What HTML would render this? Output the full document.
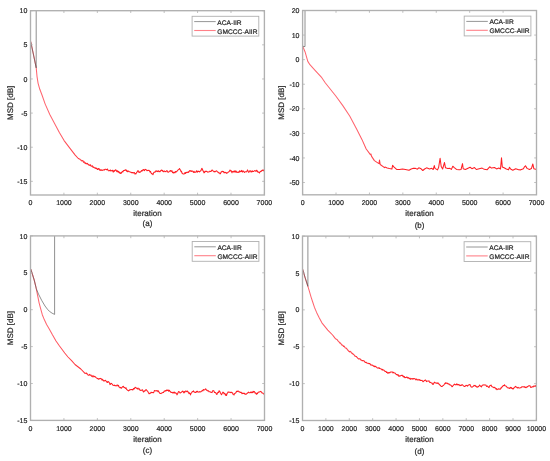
<!DOCTYPE html><html><head><meta charset="utf-8"><style>html,body{margin:0;padding:0;background:#fff;}svg{display:block;}</style></head><body>
<svg width="550" height="461" viewBox="0 0 550 461" font-family='"Liberation Sans", Arial, sans-serif'>
<style>text{stroke:#262626;stroke-width:0.2px;text-rendering:geometricPrecision;}</style>
<rect width="550" height="461" fill="#fff"/>
<defs><clipPath id="cla"><rect x="30.5" y="10.7" width="233.89999999999998" height="184.3"/></clipPath></defs>
<g clip-path="url(#cla)">
<defs><linearGradient id="gra" gradientUnits="userSpaceOnUse" x1="55" y1="0" x2="95" y2="0"><stop offset="0" stop-color="#ff6670"/><stop offset="1" stop-color="#ff1e24"/></linearGradient></defs>
<polyline points="30.70,41.60 33.50,54.50 36.20,67.60 37.00,76.30 38.10,83.30 39.80,89.30 42.00,95.00 45.20,104.10 49.80,114.50 54.30,123.00 59.50,132.80 64.10,140.60 70.00,148.40 75.20,155.10 78.30,158.50 80.00,159.17 80.50,159.97 81.00,160.01 81.50,160.71 82.00,161.06 82.50,160.48 83.00,160.72 83.50,162.36 84.00,161.75 84.50,161.97 85.00,163.44 85.50,162.85 86.00,163.69 86.50,163.36 87.00,163.87 87.50,163.34 88.00,164.37 88.50,164.99 89.00,164.69 89.50,165.29 90.00,165.43 90.50,164.75 91.00,166.16 91.50,166.18 92.00,166.01 92.50,165.87 93.00,167.44 93.50,166.95 94.00,167.48 94.50,167.87 95.00,167.74 95.50,168.35 96.00,167.79 96.50,168.72 97.00,168.43 97.50,169.50 98.00,169.59 98.50,168.53 99.00,168.78 99.50,169.10 100.00,170.48 100.50,169.79 101.00,170.25 101.50,169.89 102.00,170.38 102.50,170.26 103.00,169.91 103.50,169.98 104.00,169.68 104.50,169.90 105.00,169.25 105.50,169.35 106.00,169.36 106.50,169.82 107.00,169.55 107.50,168.98 108.00,170.34 108.50,170.75 109.00,170.86 109.50,170.38 110.00,170.67 110.50,169.93 111.00,170.98 111.50,170.66 112.00,170.40 112.50,170.24 113.00,171.71 113.50,172.04 114.00,170.38 114.50,171.30 115.00,170.45 115.50,169.82 116.00,169.95 116.50,171.11 117.00,171.67 117.50,170.74 118.00,172.05 118.50,171.43 119.00,172.65 119.50,172.17 120.00,173.20 120.50,173.44 121.00,172.51 121.50,173.13 122.00,171.86 122.50,171.32 123.00,171.90 123.50,170.58 124.00,170.44 124.50,170.38 125.00,170.40 125.50,169.80 126.00,169.74 126.50,171.19 127.00,170.43 127.50,171.61 128.00,171.70 128.50,171.06 129.00,171.38 129.50,171.67 130.00,172.05 130.50,172.13 131.00,172.19 131.50,172.41 132.00,173.04 132.50,172.47 133.00,172.47 133.50,173.05 134.00,172.49 134.50,172.81 135.00,174.11 135.50,173.59 136.00,173.85 136.50,172.67 137.00,172.20 137.50,171.35 138.00,170.55 138.50,171.91 139.00,172.33 139.50,171.82 140.00,172.42 140.50,171.69 141.00,171.55 141.50,170.55 142.00,170.87 142.50,170.82 143.00,169.58 143.50,169.54 144.00,170.37 144.50,170.64 145.00,169.31 145.50,169.44 146.00,169.81 146.50,170.05 147.00,170.78 147.50,170.45 148.00,170.29 148.50,170.40 149.00,170.28 149.50,170.90 150.00,172.04 150.50,171.34 151.00,172.79 151.50,173.69 152.00,173.64 152.50,174.13 153.00,174.65 153.50,173.08 154.00,172.33 154.50,172.14 155.00,172.29 155.50,171.07 156.00,171.15 156.50,170.90 157.00,171.57 157.50,171.04 158.00,171.81 158.50,170.81 159.00,171.18 159.50,171.66 160.00,171.82 160.50,170.92 161.00,170.35 161.50,169.98 162.00,170.67 162.50,170.33 163.00,171.51 163.50,171.76 164.00,170.91 164.50,171.08 165.00,171.82 165.50,171.46 166.00,171.62 166.50,170.77 167.00,170.67 167.50,171.27 168.00,172.40 168.50,171.90 169.00,171.80 169.50,171.32 170.00,170.73 170.50,170.48 171.00,171.61 171.50,170.69 172.00,170.76 172.50,172.57 173.00,172.78 173.50,173.03 174.00,172.06 174.50,172.80 175.00,172.68 175.50,171.47 176.00,172.02 176.50,171.83 177.00,171.21 177.50,170.64 178.00,169.93 178.50,169.65 179.00,169.09 179.50,168.46 180.00,169.65 180.50,170.02 181.00,171.71 181.50,171.27 182.00,173.15 182.50,173.31 183.00,173.86 183.50,173.92 184.00,174.03 184.50,173.62 185.00,172.51 185.50,173.48 186.00,172.35 186.50,172.35 187.00,172.73 187.50,172.29 188.00,171.84 188.50,172.42 189.00,171.63 189.50,170.93 190.00,170.52 190.50,171.23 191.00,170.74 191.50,171.46 192.00,170.99 192.50,170.97 193.00,171.73 193.50,172.41 194.00,171.31 194.50,172.23 195.00,172.37 195.50,172.11 196.00,172.07 196.50,170.72 197.00,171.78 197.50,172.22 198.00,170.98 198.50,171.40 199.00,171.45 199.50,171.93 200.00,171.31 200.50,170.81 201.00,170.72 201.50,168.90 202.00,168.40 202.50,169.50 203.00,170.87 203.50,171.55 204.00,172.87 204.50,172.54 205.00,171.17 205.50,171.70 206.00,171.26 206.50,171.29 207.00,171.48 207.50,172.09 208.00,172.14 208.50,171.91 209.00,171.78 209.50,171.78 210.00,171.15 210.50,171.54 211.00,171.49 211.50,170.65 212.00,169.96 212.50,170.30 213.00,170.79 213.50,171.34 214.00,171.81 214.50,171.29 215.00,171.86 215.50,171.47 216.00,171.06 216.50,170.86 217.00,171.17 217.50,171.94 218.00,171.93 218.50,172.80 219.00,172.87 219.50,172.96 220.00,173.87 220.50,173.68 221.00,172.03 221.50,171.93 222.00,171.27 222.50,171.34 223.00,171.82 223.50,171.57 224.00,172.73 224.50,172.80 225.00,172.19 225.50,172.75 226.00,172.45 226.50,173.36 227.00,172.81 227.50,172.87 228.00,172.41 228.50,171.90 229.00,171.71 229.50,171.13 230.00,170.09 230.50,171.06 231.00,170.66 231.50,171.41 232.00,172.69 232.50,171.40 233.00,171.36 233.50,171.25 234.00,172.38 234.50,171.13 235.00,170.76 235.50,172.09 236.00,171.00 236.50,172.22 237.00,172.01 237.50,172.33 238.00,172.58 238.50,172.00 239.00,172.21 239.50,170.85 240.00,171.88 240.50,171.33 241.00,171.51 241.50,170.40 242.00,171.54 242.50,172.02 243.00,170.80 243.50,171.40 244.00,171.97 244.50,172.50 245.00,171.67 245.50,171.67 246.00,171.88 246.50,171.72 247.00,170.97 247.50,169.87 248.00,171.04 248.50,172.29 249.00,172.04 249.50,171.61 250.00,170.55 250.50,171.07 251.00,171.95 251.50,171.17 252.00,171.82 252.50,170.88 253.00,171.54 253.50,171.46 254.00,171.14 254.50,170.70 255.00,170.62 255.50,170.96 256.00,171.44 256.50,170.33 257.00,170.32 257.50,171.61 258.00,172.23 258.50,171.95 259.00,172.18 259.50,172.98 260.00,171.86 260.50,171.57 261.00,171.04 261.50,171.24 262.00,170.39 262.50,170.04 263.00,170.61 263.50,170.86 264.00,169.64 264.50,170.13" fill="none" stroke="url(#gra)" stroke-width="1.05" stroke-linejoin="round" />
<polyline points="30.70,41.60 36.20,67.90 36.20,0.00" fill="none" stroke="#5a5a5a" stroke-width="0.9" stroke-linejoin="round" stroke-opacity="0.75"/>
</g>
<rect x="30.5" y="10.7" width="233.90" height="184.30" fill="none" stroke="#b0b0b0" stroke-width="1.35"/>
<path d="M30.50 195.0v-2.3M30.50 10.7v2.3M63.91 195.0v-2.3M63.91 10.7v2.3M97.33 195.0v-2.3M97.33 10.7v2.3M130.74 195.0v-2.3M130.74 10.7v2.3M164.16 195.0v-2.3M164.16 10.7v2.3M197.57 195.0v-2.3M197.57 10.7v2.3M230.99 195.0v-2.3M230.99 10.7v2.3M264.40 195.0v-2.3M264.40 10.7v2.3M30.5 10.70h2.3M264.4 10.70h-2.3M30.5 44.83h2.3M264.4 44.83h-2.3M30.5 78.96h2.3M264.4 78.96h-2.3M30.5 113.09h2.3M264.4 113.09h-2.3M30.5 147.22h2.3M264.4 147.22h-2.3M30.5 181.35h2.3M264.4 181.35h-2.3" stroke="#b0b0b0" stroke-width="0.8" fill="none"/>
<text transform="translate(30.50 205.40) scale(1 1.0)" font-size="7.0" fill="#262626" text-anchor="middle">0</text>
<text transform="translate(63.91 205.40) scale(1 1.0)" font-size="7.0" fill="#262626" text-anchor="middle">1000</text>
<text transform="translate(97.33 205.40) scale(1 1.0)" font-size="7.0" fill="#262626" text-anchor="middle">2000</text>
<text transform="translate(130.74 205.40) scale(1 1.0)" font-size="7.0" fill="#262626" text-anchor="middle">3000</text>
<text transform="translate(164.16 205.40) scale(1 1.0)" font-size="7.0" fill="#262626" text-anchor="middle">4000</text>
<text transform="translate(197.57 205.40) scale(1 1.0)" font-size="7.0" fill="#262626" text-anchor="middle">5000</text>
<text transform="translate(230.99 205.40) scale(1 1.0)" font-size="7.0" fill="#262626" text-anchor="middle">6000</text>
<text transform="translate(264.40 205.40) scale(1 1.0)" font-size="7.0" fill="#262626" text-anchor="middle">7000</text>
<text transform="translate(27.40 13.30) scale(1 1.0)" font-size="7.0" fill="#262626" text-anchor="end">10</text>
<text transform="translate(27.40 47.43) scale(1 1.0)" font-size="7.0" fill="#262626" text-anchor="end">5</text>
<text transform="translate(27.40 81.56) scale(1 1.0)" font-size="7.0" fill="#262626" text-anchor="end">0</text>
<text transform="translate(27.40 115.69) scale(1 1.0)" font-size="7.0" fill="#262626" text-anchor="end">-5</text>
<text transform="translate(27.40 149.82) scale(1 1.0)" font-size="7.0" fill="#262626" text-anchor="end">-10</text>
<text transform="translate(27.40 183.95) scale(1 1.0)" font-size="7.0" fill="#262626" text-anchor="end">-15</text>
<text transform="translate(147.45 215.60) scale(1 1.0)" font-size="8.0" fill="#262626" text-anchor="middle">iteration</text>
<text transform="translate(147.45 225.80) scale(1 1.0)" font-size="8.0" fill="#262626" text-anchor="middle">(a)</text>
<text transform="translate(12.80,102.85) rotate(-90) scale(1 1.0)" font-size="8.0" fill="#262626" text-anchor="middle">MSD [dB]</text>
<rect x="192.10" y="16.30" width="66.70" height="19.80" fill="#fff" stroke="#b0b0b0" stroke-width="0.9"/>
<path d="M194.20 21.60H215.70" stroke="#8a8a8a" stroke-width="0.9"/>
<path d="M194.20 30.50H215.70" stroke="#ff8088" stroke-width="1.1"/>
<text transform="translate(217.30 24.60) scale(1 1.0)" font-size="6.65" fill="#262626">ACA-IIR</text>
<text transform="translate(217.30 33.50) scale(1 1.0)" font-size="6.65" fill="#262626">GMCCC-AIIR</text>
<defs><clipPath id="clb"><rect x="302.6" y="10.5" width="233.89999999999998" height="184.3"/></clipPath></defs>
<g clip-path="url(#clb)">
<defs><linearGradient id="grb" gradientUnits="userSpaceOnUse" x1="355" y1="0" x2="392" y2="0"><stop offset="0" stop-color="#ff6670"/><stop offset="1" stop-color="#ff1e24"/></linearGradient></defs>
<polyline points="302.70,46.30 305.00,51.70 307.80,61.40 309.90,64.70 315.30,70.60 321.80,77.70 325.40,83.00 335.80,96.00 342.80,105.60 349.70,116.00 356.60,129.00 361.90,139.40 366.20,149.00 370.40,154.63 370.90,154.00 371.60,156.36 374.40,160.60 378.90,163.60 379.00,163.67 379.50,160.00 380.20,164.53 384.50,167.60 385.00,166.95 387.20,167.91 389.40,168.55 391.90,169.06 392.60,165.33 394.10,167.11 396.60,169.49 399.50,169.43 402.50,169.00 405.40,169.42 409.00,170.19 411.20,168.96 413.40,168.29 415.50,168.39 417.40,169.19 418.80,167.76 420.60,168.48 422.80,170.50 424.60,168.99 426.60,167.83 429.50,168.89 431.70,168.33 433.20,169.51 434.30,165.54 435.00,168.34 437.50,169.88 438.60,167.48 440.10,158.24 441.20,166.54 442.60,169.03 444.50,162.51 445.50,167.78 447.70,168.41 449.90,168.35 451.40,169.41 452.80,166.26 454.30,167.61 456.50,169.42 459.40,169.82 461.00,169.54 462.50,163.65 463.20,168.72 465.40,169.49 467.50,168.45 470.10,167.24 471.90,168.65 474.50,167.56 476.30,169.50 479.20,168.78 482.10,168.11 484.30,169.35 487.20,169.71 489.70,166.80 491.50,168.10 494.50,167.46 496.60,168.89 498.80,168.03 500.50,168.95 501.50,157.87 502.30,167.03 504.10,167.83 506.30,169.07 508.50,169.86 509.50,167.20 510.60,169.07 512.80,170.23 515.70,168.75 518.60,169.76 520.80,169.86 523.40,168.82 524.50,166.86 525.50,165.75 527.00,168.38 529.50,169.41 531.40,168.59 532.80,163.98 533.90,168.76 536.50,169.45" fill="none" stroke="url(#grb)" stroke-width="1.05" stroke-linejoin="round" />
<polyline points="302.70,46.30 305.00,46.60 305.00,0.00" fill="none" stroke="#5a5a5a" stroke-width="0.9" stroke-linejoin="round" stroke-opacity="0.75"/>
</g>
<rect x="302.6" y="10.5" width="233.90" height="184.30" fill="none" stroke="#b0b0b0" stroke-width="1.35"/>
<path d="M302.60 194.8v-2.3M302.60 10.5v2.3M336.01 194.8v-2.3M336.01 10.5v2.3M369.43 194.8v-2.3M369.43 10.5v2.3M402.84 194.8v-2.3M402.84 10.5v2.3M436.26 194.8v-2.3M436.26 10.5v2.3M469.67 194.8v-2.3M469.67 10.5v2.3M503.09 194.8v-2.3M503.09 10.5v2.3M536.50 194.8v-2.3M536.50 10.5v2.3M302.6 10.50h2.3M536.5 10.50h-2.3M302.6 35.07h2.3M536.5 35.07h-2.3M302.6 59.65h2.3M536.5 59.65h-2.3M302.6 84.22h2.3M536.5 84.22h-2.3M302.6 108.79h2.3M536.5 108.79h-2.3M302.6 133.37h2.3M536.5 133.37h-2.3M302.6 157.94h2.3M536.5 157.94h-2.3M302.6 182.51h2.3M536.5 182.51h-2.3" stroke="#b0b0b0" stroke-width="0.8" fill="none"/>
<text transform="translate(302.60 205.10) scale(1 1.0)" font-size="7.0" fill="#262626" text-anchor="middle">0</text>
<text transform="translate(336.01 205.10) scale(1 1.0)" font-size="7.0" fill="#262626" text-anchor="middle">1000</text>
<text transform="translate(369.43 205.10) scale(1 1.0)" font-size="7.0" fill="#262626" text-anchor="middle">2000</text>
<text transform="translate(402.84 205.10) scale(1 1.0)" font-size="7.0" fill="#262626" text-anchor="middle">3000</text>
<text transform="translate(436.26 205.10) scale(1 1.0)" font-size="7.0" fill="#262626" text-anchor="middle">4000</text>
<text transform="translate(469.67 205.10) scale(1 1.0)" font-size="7.0" fill="#262626" text-anchor="middle">5000</text>
<text transform="translate(503.09 205.10) scale(1 1.0)" font-size="7.0" fill="#262626" text-anchor="middle">6000</text>
<text transform="translate(536.50 205.10) scale(1 1.0)" font-size="7.0" fill="#262626" text-anchor="middle">7000</text>
<text transform="translate(299.50 13.10) scale(1 1.0)" font-size="7.0" fill="#262626" text-anchor="end">20</text>
<text transform="translate(299.50 37.67) scale(1 1.0)" font-size="7.0" fill="#262626" text-anchor="end">10</text>
<text transform="translate(299.50 62.25) scale(1 1.0)" font-size="7.0" fill="#262626" text-anchor="end">0</text>
<text transform="translate(299.50 86.82) scale(1 1.0)" font-size="7.0" fill="#262626" text-anchor="end">-10</text>
<text transform="translate(299.50 111.39) scale(1 1.0)" font-size="7.0" fill="#262626" text-anchor="end">-20</text>
<text transform="translate(299.50 135.97) scale(1 1.0)" font-size="7.0" fill="#262626" text-anchor="end">-30</text>
<text transform="translate(299.50 160.54) scale(1 1.0)" font-size="7.0" fill="#262626" text-anchor="end">-40</text>
<text transform="translate(299.50 185.11) scale(1 1.0)" font-size="7.0" fill="#262626" text-anchor="end">-50</text>
<text transform="translate(419.55 216.10) scale(1 1.0)" font-size="8.0" fill="#262626" text-anchor="middle">iteration</text>
<text transform="translate(419.55 228.30) scale(1 1.0)" font-size="8.0" fill="#262626" text-anchor="middle">(b)</text>
<text transform="translate(284.40,102.65) rotate(-90) scale(1 1.0)" font-size="8.0" fill="#262626" text-anchor="middle">MSD [dB]</text>
<rect x="464.20" y="16.10" width="66.70" height="19.80" fill="#fff" stroke="#b0b0b0" stroke-width="0.9"/>
<path d="M466.30 21.40H487.80" stroke="#8a8a8a" stroke-width="0.9"/>
<path d="M466.30 30.30H487.80" stroke="#ff8088" stroke-width="1.1"/>
<text transform="translate(489.40 24.40) scale(1 1.0)" font-size="6.65" fill="#262626">ACA-IIR</text>
<text transform="translate(489.40 33.30) scale(1 1.0)" font-size="6.65" fill="#262626">GMCCC-AIIR</text>
<defs><clipPath id="clc"><rect x="30.5" y="235.9" width="234.0" height="184.49999999999997"/></clipPath></defs>
<g clip-path="url(#clc)">
<defs><linearGradient id="grc" gradientUnits="userSpaceOnUse" x1="48" y1="0" x2="92" y2="0"><stop offset="0" stop-color="#ff6670"/><stop offset="1" stop-color="#ff1e24"/></linearGradient></defs>
<polyline points="30.80,269.10 32.50,274.50 34.20,280.00 35.80,286.50 36.90,291.90 38.00,297.40 39.10,302.80 40.50,308.20 42.30,314.70 44.50,320.10 46.60,324.50 49.40,329.30 52.30,334.60 56.00,341.00 59.50,346.00 62.50,350.00 64.70,353.00 68.00,357.00 71.60,360.60 75.00,364.50 80.80,369.00 85.00,373.45 85.50,373.29 86.00,373.35 86.50,373.01 87.00,373.90 87.50,374.08 88.00,374.97 88.50,375.30 89.00,375.17 89.50,374.42 90.00,374.97 90.50,375.27 91.00,374.95 91.50,376.27 92.00,376.26 92.50,375.78 93.00,376.95 93.50,375.88 94.00,376.18 94.50,376.76 95.00,376.62 95.50,376.91 96.00,377.60 96.50,377.90 97.00,378.25 97.50,378.62 98.00,378.57 98.50,379.27 99.00,379.11 99.50,378.61 100.00,378.68 100.50,378.37 101.00,378.57 101.50,379.07 102.00,380.09 102.50,379.25 103.00,380.23 103.50,380.19 104.00,381.25 104.50,380.66 105.00,380.40 105.50,380.26 106.00,381.02 106.50,381.91 107.00,381.88 107.50,382.55 108.00,381.36 108.50,381.76 109.00,382.23 109.50,382.95 110.00,384.59 110.50,384.31 111.00,383.34 111.50,383.43 112.00,384.03 112.50,384.77 113.00,385.16 113.50,385.37 114.00,385.45 114.50,385.13 115.00,385.78 115.50,385.60 116.00,385.91 116.50,385.80 117.00,385.12 117.50,385.02 118.00,385.94 118.50,385.30 119.00,386.80 119.50,387.33 120.00,387.81 120.50,387.42 121.00,388.05 121.50,388.22 122.00,387.29 122.50,386.77 123.00,386.49 123.50,386.36 124.00,387.56 124.50,387.42 125.00,387.93 125.50,388.46 126.00,387.79 126.50,389.30 127.00,389.69 127.50,390.00 128.00,390.60 128.50,390.88 129.00,390.20 129.50,390.36 130.00,389.36 130.50,389.70 131.00,389.80 131.50,389.41 132.00,389.47 132.50,389.91 133.00,389.71 133.50,388.46 134.00,389.04 134.50,388.47 135.00,387.34 135.50,387.59 136.00,387.83 136.50,388.03 137.00,388.60 137.50,388.96 138.00,387.93 138.50,388.90 139.00,389.13 139.50,388.83 140.00,390.32 140.50,390.20 141.00,390.56 141.50,390.16 142.00,390.10 142.50,389.76 143.00,391.12 143.50,392.00 144.00,391.65 144.50,390.79 145.00,390.98 145.50,390.34 146.00,389.55 146.50,390.01 147.00,390.60 147.50,391.32 148.00,391.81 148.50,392.82 149.00,393.65 149.50,393.63 150.00,393.15 150.50,393.16 151.00,392.36 151.50,392.28 152.00,392.74 152.50,392.55 153.00,392.55 153.50,392.78 154.00,391.75 154.50,390.47 155.00,390.46 155.50,390.86 156.00,391.13 156.50,390.78 157.00,390.54 157.50,390.88 158.00,391.73 158.50,390.88 159.00,391.99 159.50,392.71 160.00,393.57 160.50,393.40 161.00,393.60 161.50,393.15 162.00,392.83 162.50,392.77 163.00,392.43 163.50,392.46 164.00,391.43 164.50,390.96 165.00,391.13 165.50,390.66 166.00,390.96 166.50,390.02 167.00,390.48 167.50,390.44 168.00,389.89 168.50,391.18 169.00,390.21 169.50,390.53 170.00,391.56 170.50,391.63 171.00,392.55 171.50,392.39 172.00,392.30 172.50,392.43 173.00,393.16 173.50,392.20 174.00,392.60 174.50,392.13 175.00,393.23 175.50,392.79 176.00,393.17 176.50,393.64 177.00,394.85 177.50,394.01 178.00,392.78 178.50,391.60 179.00,391.59 179.50,392.33 180.00,392.93 180.50,392.91 181.00,392.50 181.50,392.13 182.00,391.79 182.50,391.15 183.00,391.33 183.50,392.33 184.00,392.83 184.50,391.50 185.00,392.11 185.50,390.94 186.00,390.92 186.50,391.33 187.00,391.79 187.50,390.95 188.00,391.76 188.50,392.64 189.00,393.59 189.50,392.87 190.00,393.64 190.50,394.89 191.00,393.29 191.50,392.85 192.00,391.93 192.50,391.59 193.00,391.73 193.50,390.89 194.00,391.89 194.50,392.10 195.00,392.46 195.50,392.27 196.00,392.56 196.50,391.54 197.00,391.37 197.50,391.19 198.00,392.24 198.50,392.10 199.00,391.90 199.50,391.56 200.00,392.14 200.50,391.78 201.00,391.73 201.50,391.08 202.00,391.02 202.50,390.28 203.00,390.77 203.50,389.51 204.00,389.84 204.50,389.95 205.00,389.55 205.50,388.90 206.00,389.27 206.50,390.28 207.00,390.17 207.50,390.69 208.00,390.99 208.50,390.71 209.00,391.65 209.50,391.73 210.00,391.67 210.50,392.22 211.00,392.30 211.50,392.40 212.00,392.60 212.50,390.84 213.00,390.91 213.50,390.60 214.00,391.12 214.50,392.47 215.00,392.42 215.50,392.60 216.00,393.20 216.50,394.34 217.00,394.46 217.50,392.87 218.00,392.38 218.50,392.62 219.00,390.78 219.50,391.15 220.00,391.85 220.50,393.27 221.00,393.92 221.50,394.79 222.00,393.84 222.50,392.76 223.00,392.15 223.50,392.42 224.00,393.87 224.50,393.28 225.00,393.57 225.50,395.30 226.00,394.63 226.50,395.50 227.00,393.50 227.50,393.15 228.00,391.94 228.50,392.29 229.00,392.06 229.50,392.16 230.00,392.40 230.50,392.62 231.00,391.96 231.50,392.60 232.00,392.81 232.50,392.77 233.00,394.21 233.50,394.30 234.00,395.04 234.50,393.63 235.00,393.53 235.50,392.87 236.00,392.68 236.50,391.21 237.00,391.48 237.50,391.58 238.00,390.90 238.50,391.47 239.00,391.97 239.50,391.77 240.00,392.33 240.50,392.51 241.00,392.20 241.50,392.63 242.00,393.77 242.50,393.09 243.00,393.46 243.50,393.22 244.00,393.38 244.50,393.29 245.00,394.34 245.50,394.03 246.00,394.16 246.50,394.02 247.00,393.20 247.50,393.34 248.00,392.49 248.50,392.09 249.00,392.83 249.50,392.76 250.00,392.83 250.50,392.18 251.00,392.58 251.50,391.99 252.00,392.67 252.50,392.42 253.00,391.40 253.50,392.16 254.00,391.34 254.50,391.68 255.00,393.02 255.50,392.89 256.00,393.67 256.50,394.30 257.00,393.16 257.50,393.64 258.00,392.49 258.50,392.21 259.00,391.78 259.50,392.09 260.00,391.85 260.50,391.38 261.00,391.58 261.50,392.32 262.00,392.94 262.50,392.93 263.00,393.25 263.50,393.95 264.00,393.71" fill="none" stroke="url(#grc)" stroke-width="1.05" stroke-linejoin="round" />
<polyline points="30.80,269.10 32.50,274.50 34.20,280.00 36.30,288.70 38.50,294.10 41.80,300.60 45.00,306.00 47.50,309.30 49.40,311.30 52.10,313.20 54.60,314.40 54.60,220.00" fill="none" stroke="#5a5a5a" stroke-width="0.9" stroke-linejoin="round" stroke-opacity="0.75"/>
</g>
<rect x="30.5" y="235.9" width="234.00" height="184.50" fill="none" stroke="#b0b0b0" stroke-width="1.35"/>
<path d="M30.50 420.4v-2.3M30.50 235.9v2.3M63.93 420.4v-2.3M63.93 235.9v2.3M97.36 420.4v-2.3M97.36 235.9v2.3M130.79 420.4v-2.3M130.79 235.9v2.3M164.21 420.4v-2.3M164.21 235.9v2.3M197.64 420.4v-2.3M197.64 235.9v2.3M231.07 420.4v-2.3M231.07 235.9v2.3M264.50 420.4v-2.3M264.50 235.9v2.3M30.5 235.90h2.3M264.5 235.90h-2.3M30.5 272.80h2.3M264.5 272.80h-2.3M30.5 309.70h2.3M264.5 309.70h-2.3M30.5 346.60h2.3M264.5 346.60h-2.3M30.5 383.50h2.3M264.5 383.50h-2.3M30.5 420.40h2.3M264.5 420.40h-2.3" stroke="#b0b0b0" stroke-width="0.8" fill="none"/>
<text transform="translate(30.50 431.10) scale(1 1.0)" font-size="7.0" fill="#262626" text-anchor="middle">0</text>
<text transform="translate(63.93 431.10) scale(1 1.0)" font-size="7.0" fill="#262626" text-anchor="middle">1000</text>
<text transform="translate(97.36 431.10) scale(1 1.0)" font-size="7.0" fill="#262626" text-anchor="middle">2000</text>
<text transform="translate(130.79 431.10) scale(1 1.0)" font-size="7.0" fill="#262626" text-anchor="middle">3000</text>
<text transform="translate(164.21 431.10) scale(1 1.0)" font-size="7.0" fill="#262626" text-anchor="middle">4000</text>
<text transform="translate(197.64 431.10) scale(1 1.0)" font-size="7.0" fill="#262626" text-anchor="middle">5000</text>
<text transform="translate(231.07 431.10) scale(1 1.0)" font-size="7.0" fill="#262626" text-anchor="middle">6000</text>
<text transform="translate(264.50 431.10) scale(1 1.0)" font-size="7.0" fill="#262626" text-anchor="middle">7000</text>
<text transform="translate(27.40 238.50) scale(1 1.0)" font-size="7.0" fill="#262626" text-anchor="end">10</text>
<text transform="translate(27.40 275.40) scale(1 1.0)" font-size="7.0" fill="#262626" text-anchor="end">5</text>
<text transform="translate(27.40 312.30) scale(1 1.0)" font-size="7.0" fill="#262626" text-anchor="end">0</text>
<text transform="translate(27.40 349.20) scale(1 1.0)" font-size="7.0" fill="#262626" text-anchor="end">-5</text>
<text transform="translate(27.40 386.10) scale(1 1.0)" font-size="7.0" fill="#262626" text-anchor="end">-10</text>
<text transform="translate(27.40 423.00) scale(1 1.0)" font-size="7.0" fill="#262626" text-anchor="end">-15</text>
<text transform="translate(147.50 441.80) scale(1 1.0)" font-size="8.0" fill="#262626" text-anchor="middle">iteration</text>
<text transform="translate(147.50 453.00) scale(1 1.0)" font-size="8.0" fill="#262626" text-anchor="middle">(c)</text>
<text transform="translate(12.80,328.15) rotate(-90) scale(1 1.0)" font-size="8.0" fill="#262626" text-anchor="middle">MSD [dB]</text>
<rect x="192.20" y="241.50" width="66.70" height="19.80" fill="#fff" stroke="#b0b0b0" stroke-width="0.9"/>
<path d="M194.30 246.80H215.80" stroke="#8a8a8a" stroke-width="0.9"/>
<path d="M194.30 255.70H215.80" stroke="#ff8088" stroke-width="1.1"/>
<text transform="translate(217.40 249.80) scale(1 1.0)" font-size="6.65" fill="#262626">ACA-IIR</text>
<text transform="translate(217.40 258.70) scale(1 1.0)" font-size="6.65" fill="#262626">GMCCC-AIIR</text>
<defs><clipPath id="cld"><rect x="302.5" y="236.1" width="233.89999999999998" height="184.4"/></clipPath></defs>
<g clip-path="url(#cld)">
<defs><linearGradient id="grd" gradientUnits="userSpaceOnUse" x1="318" y1="0" x2="372" y2="0"><stop offset="0" stop-color="#ff6670"/><stop offset="1" stop-color="#ff1e24"/></linearGradient></defs>
<polyline points="302.60,269.10 305.00,277.30 307.90,286.30 309.20,290.70 311.00,296.80 312.70,302.00 314.40,307.20 316.60,312.40 319.20,317.70 321.90,322.80 327.80,330.10 332.60,335.00 335.00,338.17 335.50,338.72 336.00,339.16 336.50,339.16 337.00,339.48 337.50,340.19 338.00,340.85 338.50,341.41 339.00,341.92 339.50,342.20 340.00,343.24 340.50,343.10 341.00,343.79 341.50,344.74 342.00,345.15 342.50,345.07 343.00,345.46 343.50,346.53 344.00,346.10 344.50,346.68 345.00,347.57 345.50,348.02 346.00,348.06 346.50,348.39 347.00,349.00 347.50,350.06 348.00,350.13 348.50,351.10 349.00,351.30 349.50,351.91 350.00,351.28 350.50,351.85 351.00,352.07 351.50,352.94 352.00,353.24 352.50,353.33 353.00,354.28 353.50,354.19 354.00,354.84 354.50,355.18 355.00,356.20 355.50,356.18 356.00,356.41 356.50,356.58 357.00,357.42 357.50,358.04 358.00,358.36 358.50,358.89 359.00,359.04 359.50,358.69 360.00,358.84 360.50,359.79 361.00,360.09 361.50,360.05 362.00,360.67 362.50,360.64 363.00,360.60 363.50,360.73 364.00,360.80 364.50,361.72 365.00,362.24 365.50,362.49 366.00,362.25 366.50,362.70 367.00,363.23 367.50,363.34 368.00,363.35 368.50,363.38 369.00,363.73 369.50,363.59 370.00,363.84 370.50,364.63 371.00,365.21 371.50,364.96 372.00,365.04 372.50,365.22 373.00,365.57 373.50,366.19 374.00,366.03 374.50,366.79 375.00,366.11 375.50,366.50 376.00,366.93 376.50,367.01 377.00,367.70 377.50,367.88 378.00,368.20 378.50,368.06 379.00,367.62 379.50,368.43 380.00,368.61 380.50,368.75 381.00,368.72 381.50,369.40 382.00,369.83 382.50,369.36 383.00,370.11 383.50,369.91 384.00,370.19 384.50,370.95 385.00,371.41 385.50,371.46 386.00,371.35 386.50,372.54 387.00,372.12 387.50,372.74 388.00,373.38 388.50,372.61 389.00,372.35 389.50,372.89 390.00,372.67 390.50,371.94 391.00,372.08 391.50,372.02 392.00,371.91 392.50,372.10 393.00,373.07 393.50,372.30 394.00,372.70 394.50,372.89 395.00,372.99 395.50,373.74 396.00,374.24 396.50,374.61 397.00,374.64 397.50,375.17 398.00,374.66 398.50,375.34 399.00,376.46 399.50,375.85 400.00,375.95 400.50,375.95 401.00,375.48 401.50,375.55 402.00,375.07 402.50,375.57 403.00,376.65 403.50,376.04 404.00,377.16 404.50,376.65 405.00,377.66 405.50,377.43 406.00,377.53 406.50,377.09 407.00,377.12 407.50,378.01 408.00,377.52 408.50,377.71 409.00,378.59 409.50,378.83 410.00,378.10 410.50,379.29 411.00,379.00 411.50,378.82 412.00,378.46 412.50,378.71 413.00,379.31 413.50,378.47 414.00,378.44 414.50,378.65 415.00,378.81 415.50,379.25 416.00,380.06 416.50,379.11 417.00,379.22 417.50,380.02 418.00,380.07 418.50,380.03 419.00,379.39 419.50,379.67 420.00,380.50 420.50,380.15 421.00,380.58 421.50,380.41 422.00,380.35 422.50,380.97 423.00,381.67 423.50,381.43 424.00,380.92 424.50,380.52 425.00,380.32 425.50,379.94 426.00,380.66 426.50,381.62 427.00,380.98 427.50,381.10 428.00,381.16 428.50,381.08 429.00,380.82 429.50,382.16 430.00,382.51 430.50,382.25 431.00,382.74 431.50,382.92 432.00,383.01 432.50,384.28 433.00,383.90 433.50,384.19 434.00,382.83 434.50,382.19 435.00,382.74 435.50,382.81 436.00,383.18 436.50,383.00 437.00,382.98 437.50,383.41 438.00,382.82 438.50,383.74 439.00,384.14 439.50,384.31 440.00,385.31 440.50,385.51 441.00,386.21 441.50,386.56 442.00,386.55 442.50,385.97 443.00,385.62 443.50,385.42 444.00,384.75 444.50,384.04 445.00,383.39 445.50,382.77 446.00,383.65 446.50,383.00 447.00,382.96 447.50,383.50 448.00,383.98 448.50,383.77 449.00,384.32 449.50,384.14 450.00,385.11 450.50,384.98 451.00,385.43 451.50,385.92 452.00,386.73 452.50,386.58 453.00,385.62 453.50,385.08 454.00,384.82 454.50,384.09 455.00,384.44 455.50,384.85 456.00,384.73 456.50,383.90 457.00,384.73 457.50,384.21 458.00,385.07 458.50,384.59 459.00,384.61 459.50,385.18 460.00,385.74 460.50,385.22 461.00,385.54 461.50,385.20 462.00,384.65 462.50,384.69 463.00,385.45 463.50,385.86 464.00,386.23 464.50,386.37 465.00,386.45 465.50,385.96 466.00,385.31 466.50,385.49 467.00,385.75 467.50,386.11 468.00,385.36 468.50,384.98 469.00,384.94 469.50,384.59 470.00,384.56 470.50,385.74 471.00,386.79 471.50,386.99 472.00,387.20 472.50,386.88 473.00,386.46 473.50,386.11 474.00,385.40 474.50,385.81 475.00,385.34 475.50,386.33 476.00,386.02 476.50,386.51 477.00,387.35 477.50,387.07 478.00,386.51 478.50,386.76 479.00,386.06 479.50,385.04 480.00,385.45 480.50,386.27 481.00,386.36 481.50,386.92 482.00,385.65 482.50,385.19 483.00,384.94 483.50,384.97 484.00,384.79 484.50,384.90 485.00,385.01 485.50,385.11 486.00,385.07 486.50,386.38 487.00,386.41 487.50,386.04 488.00,386.69 488.50,387.28 489.00,387.64 489.50,386.12 490.00,385.56 490.50,385.58 491.00,385.01 491.50,386.19 492.00,386.77 492.50,386.88 493.00,387.14 493.50,387.35 494.00,387.71 494.50,387.24 495.00,387.90 495.50,388.02 496.00,389.08 496.50,388.68 497.00,389.68 497.50,389.23 498.00,389.28 498.50,388.74 499.00,388.87 499.50,389.06 500.00,389.42 500.50,388.68 501.00,387.79 501.50,387.94 502.00,386.98 502.50,386.46 503.00,385.73 503.50,385.47 504.00,385.76 504.50,384.81 505.00,385.54 505.50,385.93 506.00,385.93 506.50,386.68 507.00,387.23 507.50,387.63 508.00,387.96 508.50,387.83 509.00,388.13 509.50,388.47 510.00,387.91 510.50,387.35 511.00,388.18 511.50,387.68 512.00,388.57 512.50,388.92 513.00,388.24 513.50,388.84 514.00,387.87 514.50,387.27 515.00,386.85 515.50,386.29 516.00,386.99 516.50,387.05 517.00,387.76 517.50,387.93 518.00,387.27 518.50,387.85 519.00,388.04 519.50,388.01 520.00,387.90 520.50,387.63 521.00,387.81 521.50,387.14 522.00,386.71 522.50,386.73 523.00,386.88 523.50,386.91 524.00,386.62 524.50,387.28 525.00,386.90 525.50,387.56 526.00,387.66 526.50,387.02 527.00,387.28 527.50,386.51 528.00,386.29 528.50,385.98 529.00,385.64 529.50,385.84 530.00,385.82 530.50,387.03 531.00,387.51 531.50,387.06 532.00,387.00 532.50,386.50 533.00,387.03 533.50,386.64 534.00,385.87 534.50,386.24 535.00,386.15 535.50,385.61 536.00,386.78" fill="none" stroke="url(#grd)" stroke-width="1.05" stroke-linejoin="round" />
<polyline points="302.60,269.10 305.00,277.30 307.90,286.30 307.90,220.00" fill="none" stroke="#5a5a5a" stroke-width="0.9" stroke-linejoin="round" stroke-opacity="0.75"/>
</g>
<rect x="302.5" y="236.1" width="233.90" height="184.40" fill="none" stroke="#b0b0b0" stroke-width="1.35"/>
<path d="M302.50 420.5v-2.3M302.50 236.1v2.3M325.89 420.5v-2.3M325.89 236.1v2.3M349.28 420.5v-2.3M349.28 236.1v2.3M372.67 420.5v-2.3M372.67 236.1v2.3M396.06 420.5v-2.3M396.06 236.1v2.3M419.45 420.5v-2.3M419.45 236.1v2.3M442.84 420.5v-2.3M442.84 236.1v2.3M466.23 420.5v-2.3M466.23 236.1v2.3M489.62 420.5v-2.3M489.62 236.1v2.3M513.01 420.5v-2.3M513.01 236.1v2.3M536.40 420.5v-2.3M536.40 236.1v2.3M302.5 236.10h2.3M536.4 236.10h-2.3M302.5 272.98h2.3M536.4 272.98h-2.3M302.5 309.86h2.3M536.4 309.86h-2.3M302.5 346.74h2.3M536.4 346.74h-2.3M302.5 383.62h2.3M536.4 383.62h-2.3M302.5 420.50h2.3M536.4 420.50h-2.3" stroke="#b0b0b0" stroke-width="0.8" fill="none"/>
<text transform="translate(302.50 431.10) scale(1 1.0)" font-size="7.0" fill="#262626" text-anchor="middle">0</text>
<text transform="translate(325.89 431.10) scale(1 1.0)" font-size="7.0" fill="#262626" text-anchor="middle">1000</text>
<text transform="translate(349.28 431.10) scale(1 1.0)" font-size="7.0" fill="#262626" text-anchor="middle">2000</text>
<text transform="translate(372.67 431.10) scale(1 1.0)" font-size="7.0" fill="#262626" text-anchor="middle">3000</text>
<text transform="translate(396.06 431.10) scale(1 1.0)" font-size="7.0" fill="#262626" text-anchor="middle">4000</text>
<text transform="translate(419.45 431.10) scale(1 1.0)" font-size="7.0" fill="#262626" text-anchor="middle">5000</text>
<text transform="translate(442.84 431.10) scale(1 1.0)" font-size="7.0" fill="#262626" text-anchor="middle">6000</text>
<text transform="translate(466.23 431.10) scale(1 1.0)" font-size="7.0" fill="#262626" text-anchor="middle">7000</text>
<text transform="translate(489.62 431.10) scale(1 1.0)" font-size="7.0" fill="#262626" text-anchor="middle">8000</text>
<text transform="translate(513.01 431.10) scale(1 1.0)" font-size="7.0" fill="#262626" text-anchor="middle">9000</text>
<text transform="translate(536.40 431.10) scale(1 1.0)" font-size="7.0" fill="#262626" text-anchor="middle">10000</text>
<text transform="translate(299.40 238.70) scale(1 1.0)" font-size="7.0" fill="#262626" text-anchor="end">10</text>
<text transform="translate(299.40 275.58) scale(1 1.0)" font-size="7.0" fill="#262626" text-anchor="end">5</text>
<text transform="translate(299.40 312.46) scale(1 1.0)" font-size="7.0" fill="#262626" text-anchor="end">0</text>
<text transform="translate(299.40 349.34) scale(1 1.0)" font-size="7.0" fill="#262626" text-anchor="end">-5</text>
<text transform="translate(299.40 386.22) scale(1 1.0)" font-size="7.0" fill="#262626" text-anchor="end">-10</text>
<text transform="translate(299.40 423.10) scale(1 1.0)" font-size="7.0" fill="#262626" text-anchor="end">-15</text>
<text transform="translate(419.45 441.90) scale(1 1.0)" font-size="8.0" fill="#262626" text-anchor="middle">iteration</text>
<text transform="translate(419.45 454.10) scale(1 1.0)" font-size="8.0" fill="#262626" text-anchor="middle">(d)</text>
<text transform="translate(284.30,328.30) rotate(-90) scale(1 1.0)" font-size="8.0" fill="#262626" text-anchor="middle">MSD [dB]</text>
<rect x="464.10" y="241.70" width="66.70" height="19.80" fill="#fff" stroke="#b0b0b0" stroke-width="0.9"/>
<path d="M466.20 247.00H487.70" stroke="#8a8a8a" stroke-width="0.9"/>
<path d="M466.20 255.90H487.70" stroke="#ff8088" stroke-width="1.1"/>
<text transform="translate(489.30 250.00) scale(1 1.0)" font-size="6.65" fill="#262626">ACA-IIR</text>
<text transform="translate(489.30 258.90) scale(1 1.0)" font-size="6.65" fill="#262626">GMCCC-AIIR</text>
</svg></body></html>
